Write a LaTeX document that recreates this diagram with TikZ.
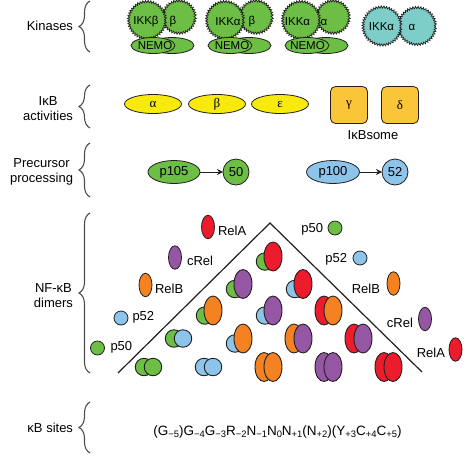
\documentclass[tikz,border=0pt]{standalone}
\usepackage{fontspec}
\setmainfont{Liberation Sans}
\newfontfamily\serifgreek{Liberation Serif}
\usetikzlibrary{decorations.pathreplacing,decorations.pathmorphing,arrows.meta,shapes.geometric}
\definecolor{edge}{HTML}{231F20}
\definecolor{bracegray}{HTML}{4D4D4D}
\definecolor{kgreen}{HTML}{6CBE45}
\definecolor{kteal}{HTML}{7DCDC8}
\definecolor{ikbyellow}{HTML}{F8EA0C}
\definecolor{ikbgold}{HTML}{F9C63A}
\definecolor{pblue}{HTML}{8DC4EA}
\definecolor{rorange}{HTML}{F58220}
\definecolor{rpurple}{HTML}{9557A4}
\definecolor{rred}{HTML}{EC1C2D}
\newcommand\sbs[1]{\raisebox{-0.35ex}{\fontsize{9.4}{9.4}\selectfont #1}}
\newcommand\mkdimer[7]{%
  \node[#6] (#1a) at (#2-#4,#3+#5) {};
  \node[#7] (#1b) at (#2,#3) {};}
\begin{document}
\begin{tikzpicture}[x=1pt,y=-1pt,
  every node/.style={inner sep=0pt, outer sep=0pt},
  txt/.style={font=\fontsize{13}{15}\selectfont},
  ktxt/.style={font=\fontsize{11.5}{13}\selectfont},
  lab/.style={txt, align=center, anchor=east},
  bracepath/.style={draw=bracegray, line width=1.1pt, decorate, decoration={brace, amplitude=11pt}},
  jag/.style={circle, draw=edge, line width=0.7pt, decorate, decoration={zigzag, segment length=2.6pt, amplitude=1.1pt}},
  nemo/.style={ellipse, draw=edge, fill=kgreen, line width=0.8pt, minimum width=44pt, minimum height=16pt},
  ikb/.style={ellipse, draw=edge, fill=ikbyellow, line width=0.8pt, minimum width=57pt, minimum height=19pt, font=\serifgreek\fontsize{13}{15}\selectfont},
  somebox/.style={rectangle, rounded corners=5pt, draw=edge, fill=ikbgold, line width=0.8pt, minimum size=37pt, font=\serifgreek\fontsize{13}{15}\selectfont},
  precell/.style={ellipse, draw=edge, line width=0.8pt, minimum width=52pt, minimum height=23pt, txt},
  precirc/.style={circle, draw=edge, line width=0.8pt, minimum size=26pt, txt},
  arr/.style={line width=0.8pt, draw=edge, -{Stealth[length=6pt,width=6pt]}},
  tri/.style={line width=1.2pt, draw=edge},
  sc/.style={circle, draw=edge, line width=0.8pt, minimum size=14pt},
  se/.style={ellipse, draw=edge, line width=0.8pt, minimum width=13pt, minimum height=23.5pt},
  dc/.style={circle, draw=edge, line width=0.9pt, minimum size=17.5pt},
  de/.style={ellipse, draw=edge, line width=0.9pt, minimum width=18pt, minimum height=29pt},
  P50/.style={dc, fill=kgreen}, P52/.style={dc, fill=pblue},
  RB/.style={de, fill=rorange}, CR/.style={de, fill=rpurple}, RA/.style={de, fill=rred}
]
\useasboundingbox (0,0) rectangle (474,467);

% ---------- row labels and braces ----------
\node[lab] (lkin) at (73,26) {Kinases};
\node[lab] (likb) at (73,109) {IκB\\activities};
\node[lab] (lpre) at (73,172) {Precursor\\processing};
\node[lab] (lnfk) at (73,296) {NF-κB\\dimers};
\node[lab] (lsit) at (73,428) {κB sites};
\draw[bracepath] (90,52) -- (90,1);
\draw[bracepath] (90,128) -- (90,85);
\draw[bracepath] (90,197) -- (90,143);
\draw[bracepath] (90,373) -- (90,213);
\draw[bracepath] (90,453) -- (90,402);

% ---------- kinases ----------
\node[jag, fill=kgreen, minimum size=32.5pt] (k1b) at (179,17) {};
\node[jag, fill=kgreen, minimum size=37pt] (k1a) at (147,20) {};
\node[nemo] (k1m) at (172,45.5) {};
\node[nemo] (k1n) at (153,45.5) {};
\node[jag, fill=kgreen, minimum size=32.5pt] (k2b) at (256,17) {};
\node[jag, fill=kgreen, minimum size=37pt] (k2a) at (225,20) {};
\node[nemo] (k2m) at (249,45.5) {};
\node[nemo] (k2n) at (230,45.5) {};
\node[jag, fill=kgreen, minimum size=32.5pt] (k3b) at (333,17) {};
\node[jag, fill=kgreen, minimum size=37pt] (k3a) at (301,20) {};
\node[nemo] (k3m) at (326,45.5) {};
\node[nemo] (k3n) at (307,45.5) {};
\node[jag, fill=kteal, minimum size=37pt] (k4b) at (417,26) {};
\node[jag, fill=kteal, minimum size=38pt] (k4a) at (382,26) {};
\node[ktxt] (t1a) at (146,22) {IKKβ};
\node[ktxt] (t1b) at (173,22) {β};
\node[ktxt] (t1n) at (155,46) {NEMO};
\node[ktxt] (t2a) at (228,22) {IKKα};
\node[ktxt] (t2b) at (252,22) {β};
\node[ktxt] (t2n) at (232,46) {NEMO};
\node[ktxt] (t3a) at (297.5,22) {IKKα};
\node[ktxt] (t3b) at (324,22) {α};
\node[ktxt] (t3n) at (307.5,46) {NEMO};
\node[ktxt] (t4a) at (381.5,27) {IKKα};
\node[ktxt] (t4b) at (412,27) {α};

% ---------- IkB ----------
\node[ikb] (ia) at (153,104) {α};
\node[ikb] (ib) at (217,104) {β};
\node[ikb] (ie) at (280,104) {ε};
\node[somebox] (ig) at (349,105) {γ};
\node[somebox] (id) at (400,105) {δ};
\node[txt] (isome) at (373,135) {IκBsome};

% ---------- precursor processing ----------
\node[precell, fill=kgreen] (p105) at (174,172) {p105};
\node[precirc, fill=kgreen] (n50) at (236,172) {50};
\node[precell, fill=pblue, minimum width=53pt] (p100) at (333,172) {p100};
\node[precirc, fill=pblue] (n52) at (395,172) {52};
\draw[arr] (p105) -- (n50);
\draw[arr] (p100) -- (n52);

% ---------- NF-kB dimers ----------
\coordinate (apex) at (270,223);
\coordinate (tl) at (118,373);
\coordinate (tr) at (422,372);
\draw[tri] (tl) -- (apex) -- (tr);

% left singles
\node[se, fill=rred] (lA) at (208,227) {};
\node[txt, anchor=west] (lAt) at (218,231) {RelA};
\node[se, fill=rpurple] (lC) at (175,257.5) {};
\node[txt, anchor=west] (lCt) at (187,261) {cRel};
\node[se, fill=rorange] (lB) at (145.5,285) {};
\node[txt, anchor=west] (lBt) at (155,288.5) {RelB};
\node[sc, fill=pblue] (l52) at (121,318) {};
\node[txt, anchor=west] (l52t) at (132.5,317.5) {p52};
\node[sc, fill=kgreen] (l50) at (97.5,348) {};
\node[txt, anchor=west] (l50t) at (110.5,347) {p50};
% right singles
\node[sc, fill=kgreen] (r50) at (335,228) {};
\node[txt, anchor=east] (r50t) at (323,229) {p50};
\node[sc, fill=pblue] (r52) at (360,258) {};
\node[txt, anchor=east] (r52t) at (347,259) {p52};
\node[se, fill=rorange] (rB) at (393.5,283.5) {};
\node[txt, anchor=east] (rBt) at (380,288.5) {RelB};
\node[se, fill=rpurple] (rC) at (425,319) {};
\node[txt, anchor=east] (rCt) at (413,322.5) {cRel};
\node[se, fill=rred] (rA) at (455.5,349.5) {};
\node[txt, anchor=east] (rAt) at (445,352.5) {RelA};

% dimers: row 0 (bottom)
\mkdimer{d00}{153}{367}{9}{0}{P50}{P50}
\mkdimer{d11}{213}{367}{9}{0}{P52}{P52}
\mkdimer{d22}{273}{367}{9}{0}{RB}{RB}
\mkdimer{d33}{333}{367}{9}{0}{CR}{CR}
\mkdimer{d44}{393}{367}{9}{0}{RA}{RA}
% row 1
\mkdimer{d01}{183}{338.5}{9}{0}{P50}{P52}
\mkdimer{d12}{243}{338.5}{8}{5}{P52}{RB}
\mkdimer{d23}{303}{338.5}{9}{0}{RB}{CR}
\mkdimer{d34}{363}{338.5}{9}{0}{RA}{CR}
% row 2
\mkdimer{d02}{213}{310.5}{8}{5}{P50}{RB}
\mkdimer{d13}{273}{310.5}{8}{5}{P52}{CR}
\mkdimer{d24}{333}{310.5}{9}{0}{RA}{RB}
% row 3
\mkdimer{d03}{243}{284}{8}{5}{P50}{CR}
\mkdimer{d14}{303}{284}{8}{5}{P52}{RA}
% row 4
\mkdimer{d04}{273}{256.5}{8}{5}{P50}{RA}

% ---------- kB sites ----------
\node[font=\fontsize{13.5}{15}\selectfont] (kbf) at (277.5,432) {(G\sbs{−5})G\sbs{−4}G\sbs{−3}R\sbs{−2}N\sbs{−1}N\sbs{0}N\sbs{+1}(N\sbs{+2})(Y\sbs{+3}C\sbs{+4}C\sbs{+5})};
\end{tikzpicture}
\end{document}
